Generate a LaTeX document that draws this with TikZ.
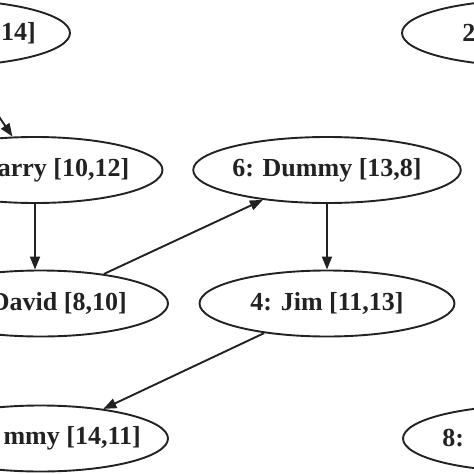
\documentclass[tikz,border=0pt]{standalone}
\usepackage{fontspec}
\setmainfont{Liberation Serif}
\usetikzlibrary{shapes, arrows.meta, calc}
\definecolor{ink}{HTML}{222222}

\begin{document}
\begin{tikzpicture}[x=1pt, y=-1pt, >={Triangle[length=13pt, width=10pt]}, task/.style={draw=ink, ellipse, line width=1.9pt, minimum width=255pt, minimum height=66pt, inner sep=0pt, text=ink, font=\bfseries\fontsize{26}{30}\selectfont}, cut/.style={inner sep=0pt, text=ink, font=\bfseries\fontsize{26}{30}\selectfont}, edge/.style={->, draw=ink, line width=1.9pt}]
\useasboundingbox (0,0) rectangle (474,474);
\clip (0,0) rectangle (474,474);
\node[task] (first) at (-57.5,33) {};
\node[task] (two) at (529.5,33) {};
\node[task] (harry) at (35,170) {};
\node[task] (dummysix) at (327,170) {6: Dummy [13,8]};
\node[task] (david) at (40.5,303.5) {};
\node[task] (jim) at (327,303.5) {4: Jim [11,13]};
\node[task] (dummyfour) at (40.5,438.5) {};
\node[task] (eight) at (530.5,438.5) {};
\node[cut, anchor=east] (firsttxt) at ([xshift=-35pt]first.east) {14]};
\node[cut, anchor=west] (twotxt) at ([xshift=61pt]two.west) {2};
\node[cut, anchor=east] (harrytxt) at ([xshift=-34pt]harry.east) {arry [10,12]};
\node[cut, anchor=east] (davidtxt) at ([xshift=-42pt]david.east) {David [8,10]};
\node[cut, anchor=east] (dummyfourtxt) at ([xshift=-28pt]dummyfour.east) {mmy [14,11]};
\node[cut, anchor=west] (eighttxt) at ([xshift=40pt]eight.west) {8:};
\draw[edge] (first) -- (harry);
\draw[edge] (harry) -- (harry |- david.north);
\draw[edge] (david) -- (dummysix);
\draw[edge] (dummysix) -- (jim);
\draw[edge] (jim) -- (dummyfour);
\end{tikzpicture}
\end{document}
